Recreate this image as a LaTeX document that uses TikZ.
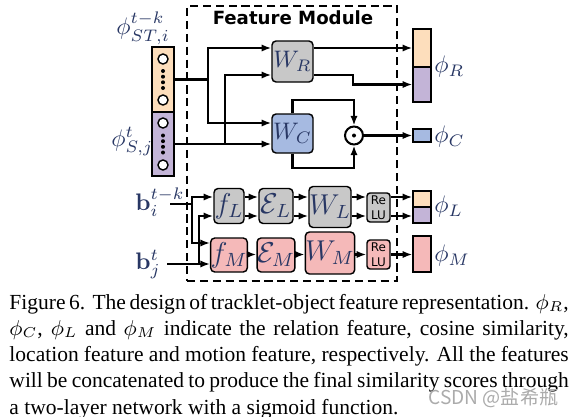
\documentclass[tikz,border=0pt]{standalone}
\usepackage[no-math]{fontspec}
\setmainfont{Liberation Serif}
\newfontfamily\dvsans{DejaVu Sans}
\newfontfamily\cjkfont{Noto Sans CJK SC}
\usetikzlibrary{arrows.meta}
\newcommand\pxu{0.4184pt}
\definecolor{peach}{RGB}{253,222,188}
\definecolor{lav}{RGB}{195,180,215}
\definecolor{gbox}{RGB}{200,200,200}
\definecolor{bbox}{RGB}{166,186,225}
\definecolor{pbox}{RGB}{245,185,185}
\definecolor{mblue}{RGB}{40,55,100}
\begin{document}
\begin{tikzpicture}[x=0.4184pt,y=-0.4184pt,
  sz/.style 2 args={minimum width=#1*\pxu,minimum height=#2*\pxu},
  rbox/.style={draw,line width=0.6pt,rounded corners=1.7pt,inner sep=0pt,text=mblue},
  vbox/.style={draw,line width=0.7pt,inner sep=0pt},
  fbox/.style={draw,line width=0.6pt,inner sep=0pt},
  cir/.style={circle,draw,line width=0.6pt,fill=white,inner sep=0pt,minimum size=10*\pxu},
  dotn/.style={circle,fill=black,inner sep=0pt,minimum size=4*\pxu},
  lbl/.style={inner sep=0pt,text=mblue,font=\fontsize{10}{12}\selectfont},
  relu/.style={draw,line width=0.6pt,rounded corners=1.3pt,inner sep=0pt,align=center,
     font=\dvsans\fontsize{5}{6.2}\selectfont},
  ln/.style={line width=0.85pt},
  arr/.style={line width=0.85pt,-{Latex[length=4pt,width=3pt]}}]
\useasboundingbox (0,0) rectangle (575,417);
% feature module frame
\node[draw,line width=0.6pt,dash pattern=on 3.4pt off 2pt,sz={210}{275},inner sep=0pt] (fmod) at (292,143.5) {};
\node[inner sep=0pt,font=\dvsans\bfseries\fontsize{7.6}{9}\selectfont] (fmt) at (293,18) {Feature Module};
% feature vectors
\node[vbox,fill=peach,sz={22}{65}] (vo) at (163,79.5) {};
\node[vbox,fill=lav,sz={22}{64}] (vp) at (163,144) {};
\node[cir] (c1) at (163,59) {};
\node[cir] (c2) at (163,100) {};
\node[dotn] (d1) at (163,71) {};
\node[dotn] (d2) at (163,76.7) {};
\node[dotn] (d3) at (163,82.3) {};
\node[dotn] (d4) at (163,88) {};
\node[cir] (c3) at (163,123) {};
\node[cir] (c4) at (163,165) {};
\node[dotn] (d5) at (163,135.5) {};
\node[dotn] (d6) at (163,141.2) {};
\node[dotn] (d7) at (163,146.8) {};
\node[dotn] (d8) at (163,152.5) {};
\node[lbl,anchor=base west] (phiST) at (116,34) {$\phi^{t-k}_{ST,i}$};
\node[lbl,anchor=base west] (phiS) at (111,146) {$\phi^{t}_{S,j}$};
% W_R, W_C
\node[rbox,fill=gbox,sz={41}{41}] (wr) at (292.5,61.5) {$W_R$};
\node[rbox,fill=bbox,sz={41}{39}] (wc) at (292.5,133.5) {$W_C$};
\node[circle,draw,line width=0.85pt,fill=white,inner sep=0pt,minimum size=18*\pxu] (odot) at (354,135.5) {};
\node[dotn] (odotc) at (odot.center) {};
% outputs top
\node[fbox,fill=peach,sz={18}{38}] (phiRo) at (422,48) {};
\node[fbox,fill=lav,sz={18}{35}] (phiRp) at (422,84.5) {};
\node[fbox,fill=bbox,sz={18}{13}] (phiCb) at (422,135.5) {};
\node[lbl,anchor=west] (phiR) at (434,67) {$\phi_R$};
\node[lbl,anchor=west] (phiC) at (434,137) {$\phi_C$};
% lower rows
\node[lbl,anchor=base west] (bi) at (135,210) {$\mathbf{b}_i^{t-k}$};
\node[lbl,anchor=base west] (bj) at (135,269) {$\mathbf{b}_j^{t}$};
\begin{scope}[every node/.append style={font=\fontsize{12}{14}\selectfont}]
\node[rbox,fill=gbox,sz={30}{35}] (fl) at (229,206) {$f_L$};
\node[rbox,fill=gbox,sz={34}{35}] (el) at (276,206) {$\mathcal{E}_L$};
\node[rbox,fill=gbox,sz={42}{41}] (wl) at (330,207) {$W_L$};
\node[rbox,fill=pbox,sz={30}{34}] (fm) at (229,255) {$f_M$};
\node[rbox,fill=pbox,sz={34}{34}] (em) at (276,255) {$\mathcal{E}_M$};
\node[rbox,fill=pbox,sz={42}{42}] (wm) at (330,253) {$W_M$};
\end{scope}
\node[relu,fill=gbox,sz={23}{29}] (rl) at (378.5,207.5) {Re\\LU};
\node[relu,fill=pbox,sz={23}{29}] (rm) at (378.5,254.5) {Re\\LU};
\node[fbox,fill=peach,sz={18}{16}] (phiLo) at (422,199) {};
\node[fbox,fill=lav,sz={18}{16}] (phiLp) at (422,215) {};
\node[fbox,fill=pbox,sz={18}{36}] (phiMb) at (422,254) {};
\node[lbl,anchor=west] (phiL) at (434,207) {$\phi_L$};
\node[lbl,anchor=west] (phiM) at (434,256) {$\phi_M$};
% row coordinates
\coordinate (y48) at (0,48);
\coordinate (y75) at (0,75);
\coordinate (y123) at (0,123);
\coordinate (y144) at (0,144);
\coordinate (r1) at (0,197);
\coordinate (r2) at (0,216);
\coordinate (r3) at (0,254.5);
\coordinate (r4) at (0,243);
\coordinate (r5) at (0,264);
% top connectors
\coordinate (ja) at (208,79.5);
\coordinate (jb) at (225,144);
\draw[ln] (vo.east) -- (ja);
\draw[arr] (ja) |- (wr.west |- y48);
\draw[arr] (ja) |- (wc.west |- y123);
\draw[arr] (vp.east) -- (wc.west |- y144);
\draw[arr] (jb) |- (wr.west |- y75);
\coordinate (jc) at (353,75);
\draw[arr] (wr.east |- y48) -- (phiRo.west);
\draw[arr] (wr.east |- y75) -- (jc) |- (phiRp.west);
\coordinate (jd) at (292.5,100);
\coordinate (je) at (292.5,168);
\draw[arr] (wc.north) -- (jd) -| (odot.north);
\draw[arr] (wc.south) -- (je) -| (odot.south);
\draw[arr] (odot.east) -- (phiCb.west);
% lower connectors
\coordinate (bio) at (170,204);
\coordinate (jf) at (192,204);
\coordinate (bjo) at (167,264);
\coordinate (jg) at (199,264);
\draw[ln] (bio) -- (jf);
\draw[arr] (jf) |- (fl.west |- r1);
\draw[arr] (jf) |- (fm.west |- r4);
\draw[arr] (bjo) -- (fm.west |- r5);
\draw[arr] (jg) |- (fl.west |- r2);
\draw[arr] (fl.east |- r1) -- (el.west |- r1);
\draw[arr] (fl.east |- r2) -- (el.west |- r2);
\draw[arr] (el.east |- r1) -- (wl.west |- r1);
\draw[arr] (el.east |- r2) -- (wl.west |- r2);
\draw[arr] (wl.east |- r1) -- (rl.west |- r1);
\draw[arr] (wl.east |- r2) -- (rl.west |- r2);
\draw[arr] (rl.east |- r1) -- (phiLo.west |- r1);
\draw[arr] (rl.east |- r2) -- (phiLp.west |- r2);
\draw[arr] (fm.east |- r3) -- (em.west |- r3);
\draw[arr] (em.east |- r3) -- (wm.west |- r3);
\draw[arr] (wm.east |- r3) -- (rm.west |- r3);
\draw[arr] (rm.east |- r3) -- (phiMb.west |- r3);
% caption
\node[anchor=base west,inner sep=0pt,text width=234pt,align=justify,
  font=\fontsize{9}{11}\selectfont] (cap) at (9,309)
  {Figure 6.\ \ The design of tracklet-object feature representation. $\phi_R$,\linebreak
   $\phi_C$, $\phi_L$ and $\phi_M$ indicate the relation feature, cosine similarity,\linebreak
   location feature and motion feature, respectively. All the features\linebreak
   will be concatenated to produce the final similarity scores through\linebreak
   a two-layer network with a sigmoid function.};
\node[anchor=base west,inner sep=0pt,text=black!33,font=\cjkfont\fontsize{8}{9}\selectfont] (wm) at (428,404) {CSDN @盐希瓶};
\end{tikzpicture}
\end{document}
